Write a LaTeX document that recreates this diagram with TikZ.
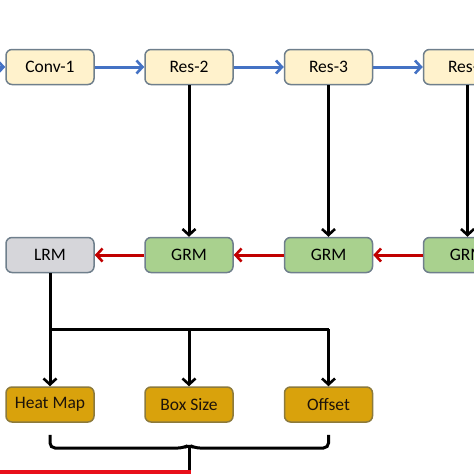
\documentclass[tikz,border=0pt]{standalone}
\usepackage{fontspec}
\setmainfont{Carlito}
\usetikzlibrary{arrows.meta,calc}
\definecolor{resfill}{HTML}{FFF2CC}
\definecolor{grmfill}{HTML}{A9D18E}
\definecolor{lrmfill}{HTML}{D6D6DA}
\definecolor{outfill}{HTML}{D9A20C}
\definecolor{boxline}{HTML}{6F7F8C}
\definecolor{outline}{HTML}{8C7A3C}
\definecolor{blueline}{HTML}{4472C4}
\definecolor{redarrow}{HTML}{C00000}
\definecolor{redline}{HTML}{E8101A}
\begin{document}
\begin{tikzpicture}[x=1pt,y=-1pt,
  box/.style={draw=boxline, line width=1.5pt, rounded corners=6pt,
    minimum width=88pt, minimum height=35pt, inner sep=0pt,
    font=\fontsize{17.5}{20}\selectfont},
  resbox/.style={box, fill=resfill},
  grmbox/.style={box, fill=grmfill},
  lrmbox/.style={box, fill=lrmfill},
  outbox/.style={box, fill=outfill, draw=outline, text=black!85!brown},
  tip/.style={-{Straight Barb[length=6pt,width=13pt,line width=2.6pt]}},
  bluearr/.style={draw=blueline, line width=3pt, tip},
  redarr/.style={draw=redarrow, line width=3pt, tip},
  blackarr/.style={draw=black, line width=3pt, tip},
  blackline/.style={draw=black, line width=3pt},
]
\clip (0,0) rectangle (474,474);
% row 1
\node[resbox] (conv1) at (50,67) {Conv-1};
\node[resbox] (res2) at (189,67) {Res-2};
\node[resbox] (res3) at (328.5,67) {Res-3};
\node[resbox] (res4) at (467.5,67) {Res-4};
% row 2
\node[lrmbox] (lrm) at (50,255) {LRM};
\node[grmbox] (grm2) at (189,255) {GRM};
\node[grmbox] (grm3) at (328.5,255) {GRM};
\node[grmbox] (grm4) at (467.5,255) {GRM};
% row 3
\node[outbox] (heat) at (50,404.5) {Heat Map};
\node[outbox] (size) at (189,404.5) {Box Size};
\node[outbox] (offset) at (328.5,404.5) {Offset};
% blue chain
\coordinate (in) at (-10,67);
\draw[bluearr] (in) -- (conv1);
\draw[bluearr] (conv1) -- (res2);
\draw[bluearr] (res2) -- (res3);
\draw[bluearr] (res3) -- (res4);
% vertical black
\draw[blackarr] (res2) -- (grm2);
\draw[blackarr] (res3) -- (grm3);
\draw[blackarr] (res4.south) -- (grm4.north);
% red chain
\draw[redarr] (grm2) -- (lrm);
\draw[redarr] (grm3) -- (grm2);
\draw[redarr] (grm4) -- (grm3);
% split
\coordinate (j) at (50,329);
\draw[blackline] (lrm.south) -- (j);
\draw[blackline] (j) -- (offset.north |- j);
\draw[blackarr] (j) -- (heat.north);
\draw[blackarr] (size.north |- j) -- (size.north);
\draw[blackarr] (offset.north |- j) -- (offset.north);
% brace
\coordinate (bl) at ($(heat.south)+(0,12)$);
\coordinate (br) at ($(offset.south)+(0,12)$);
\coordinate (bm) at (189,448);
\coordinate (bot) at (189,472);
\draw[blackline, rounded corners=5pt] (bl) -- (bl |- bm) -- ($(bm)+(-6,0)$) -- ($(bm)+(0,-3)$) -- ($(bm)+(6,0)$) -- (br |- bm) -- (br);
\draw[blackline] ($(bm)+(0,-3)$) -- (bot);
% red line
\coordinate (rl) at (-5,472);
\draw[draw=redline, line width=4pt] (rl) -- ($(bot)+(1.5,0)$);
\end{tikzpicture}
\end{document}
